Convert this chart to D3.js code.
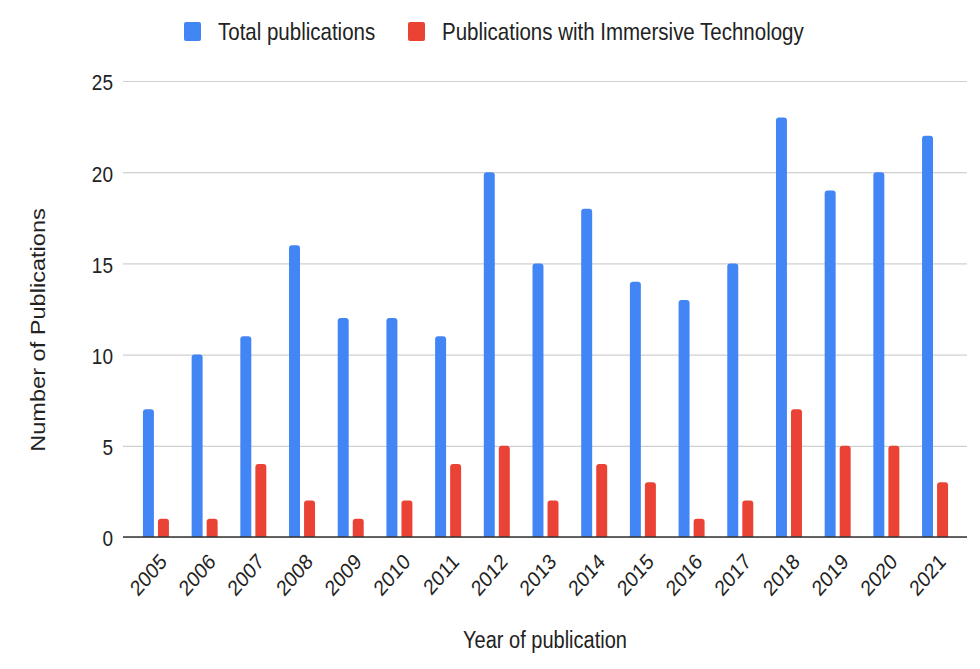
<!DOCTYPE html>
<html>
<head>
<meta charset="utf-8">
<script src="https://cdn.jsdelivr.net/npm/d3@7"></script>
<style>
    body { margin: 0; background: #fff; }
    text { font-family: "Liberation Sans", Arial, sans-serif; fill: #222; }
</style>
</head>
<body>
<div id="chart"></div>
<script>
// ---- data ----
const years = ["2005", "2006", "2007", "2008", "2009", "2010", "2011", "2012", "2013",
               "2014", "2015", "2016", "2017", "2018", "2019", "2020", "2021"];
const totalPubs = [7, 10, 11, 16, 12, 12, 11, 20, 15, 18, 14, 13, 15, 23, 19, 20, 22];
const immersivePubs = [1, 1, 4, 2, 1, 2, 4, 5, 2, 4, 3, 1, 2, 7, 5, 5, 3];
const yTicks = [0, 5, 10, 15, 20, 25];
const seriesNames = ["Total publications", "Publications with Immersive Technology"];

function drawChart() {
    const width = 980;
    const height = 669;
    const stretch = 1.15; // the source text is a bit taller than wide

    const keys = ["total", "immersive"];
    const rows = years.map((y, i) => ({ year: y, total: totalPubs[i], immersive: immersivePubs[i] }));

    const svg = d3.select("#chart").append("svg")
        .attr("width", width)
        .attr("height", height);

    // grid spans a bit wider than the bars
    const gridLeft = 123, gridRight = 967;
    const plotTop = 81, plotBottom = 537;

    // ---- scales ----
    const x0 = d3.scaleBand()
        .domain(years)
        .range([131.6, 959.4]);

    const x1 = d3.scaleBand()
        .domain(keys)
        .range([-13, 13])
        .paddingInner(0.27);

    const y = d3.scaleLinear()
        .domain([0, 25])
        .range([plotBottom, plotTop]);

    const color = d3.scaleOrdinal()
        .domain(keys)
        .range(["#4285F4", "#EA4335"]);

    // ---- y axis + gridlines ----
    const yAxis = svg.append("g")
        .attr("transform", `translate(${gridLeft},0)`)
        .call(d3.axisLeft(y).tickValues(yTicks).tickSize(-(gridRight - gridLeft)).tickPadding(10));

    yAxis.select(".domain").remove();
    yAxis.selectAll(".tick line")
        .attr("stroke", "#d0d0d0")
        .attr("stroke-width", 1.2);
    yAxis.selectAll(".tick text")
        .attr("x", null)
        .attr("dy", "0.36em")
        .attr("transform", `translate(-10,1) scale(1,${stretch})`)
        .style("font-size", "19px")
        .attr("fill", "#222");

    // ---- bars ----
    const bar = (x, yTop, w, h, r) => {
        r = Math.min(r, h, w / 2);
        return `M${x},${yTop + h}V${yTop + r}Q${x},${yTop} ${x + r},${yTop}` +
               `H${x + w - r}Q${x + w},${yTop} ${x + w},${yTop + r}V${yTop + h}Z`;
    };

    svg.append("g")
        .selectAll("g")
        .data(rows)
        .join("g")
        .attr("transform", d => `translate(${x0(d.year) + x0.bandwidth() / 2},0)`)
        .selectAll("path")
        .data(d => keys.map(k => ({ key: k, value: d[k] })))
        .join("path")
        .attr("fill", d => color(d.key))
        .attr("d", d => bar(x1(d.key), y(d.value), x1.bandwidth(), y(0) - y(d.value), 3));

    // baseline
    svg.append("line")
        .attr("x1", gridLeft)
        .attr("x2", gridRight)
        .attr("y1", y(0))
        .attr("y2", y(0))
        .attr("stroke", "#333")
        .attr("stroke-width", 1.5);

    // ---- x axis ----
    const xAxis = svg.append("g")
        .attr("transform", `translate(0,${plotBottom})`)
        .call(d3.axisBottom(x0).tickSize(0));

    xAxis.select(".domain").remove();
    xAxis.selectAll(".tick text")
        .attr("y", null)
        .attr("dy", null)
        .attr("text-anchor", "end")
        .attr("transform", `translate(12,26) scale(1,${stretch}) rotate(-45)`)
        .style("font-size", "19px")
        .attr("fill", "#222");

    // ---- axis titles ----
    svg.append("text")
        .attr("text-anchor", "middle")
        .attr("transform", `translate(545,648) scale(1,${stretch})`)
        .style("font-size", "20px")
        .text("Year of publication");

    svg.append("text")
        .attr("text-anchor", "middle")
        .attr("transform", `translate(45,330) scale(1,${stretch}) rotate(-90)`)
        .style("font-size", "20.5px")
        .text("Number of Publications");

    // ---- legend ----
    const legendX = [184, 408];
    seriesNames.forEach((label, i) => {
        const row = svg.append("g")
            .attr("transform", `translate(${legendX[i]},0)`);

        row.append("rect")
            .attr("y", 22)
            .attr("width", 17)
            .attr("height", 19)
            .attr("rx", 2)
            .attr("fill", color(keys[i]));

        row.append("text")
            .attr("transform", `translate(34,40) scale(1,${stretch})`)
            .style("font-size", "20.5px")
            .text(label);
    });
}

drawChart();
</script>
</body>
</html>
